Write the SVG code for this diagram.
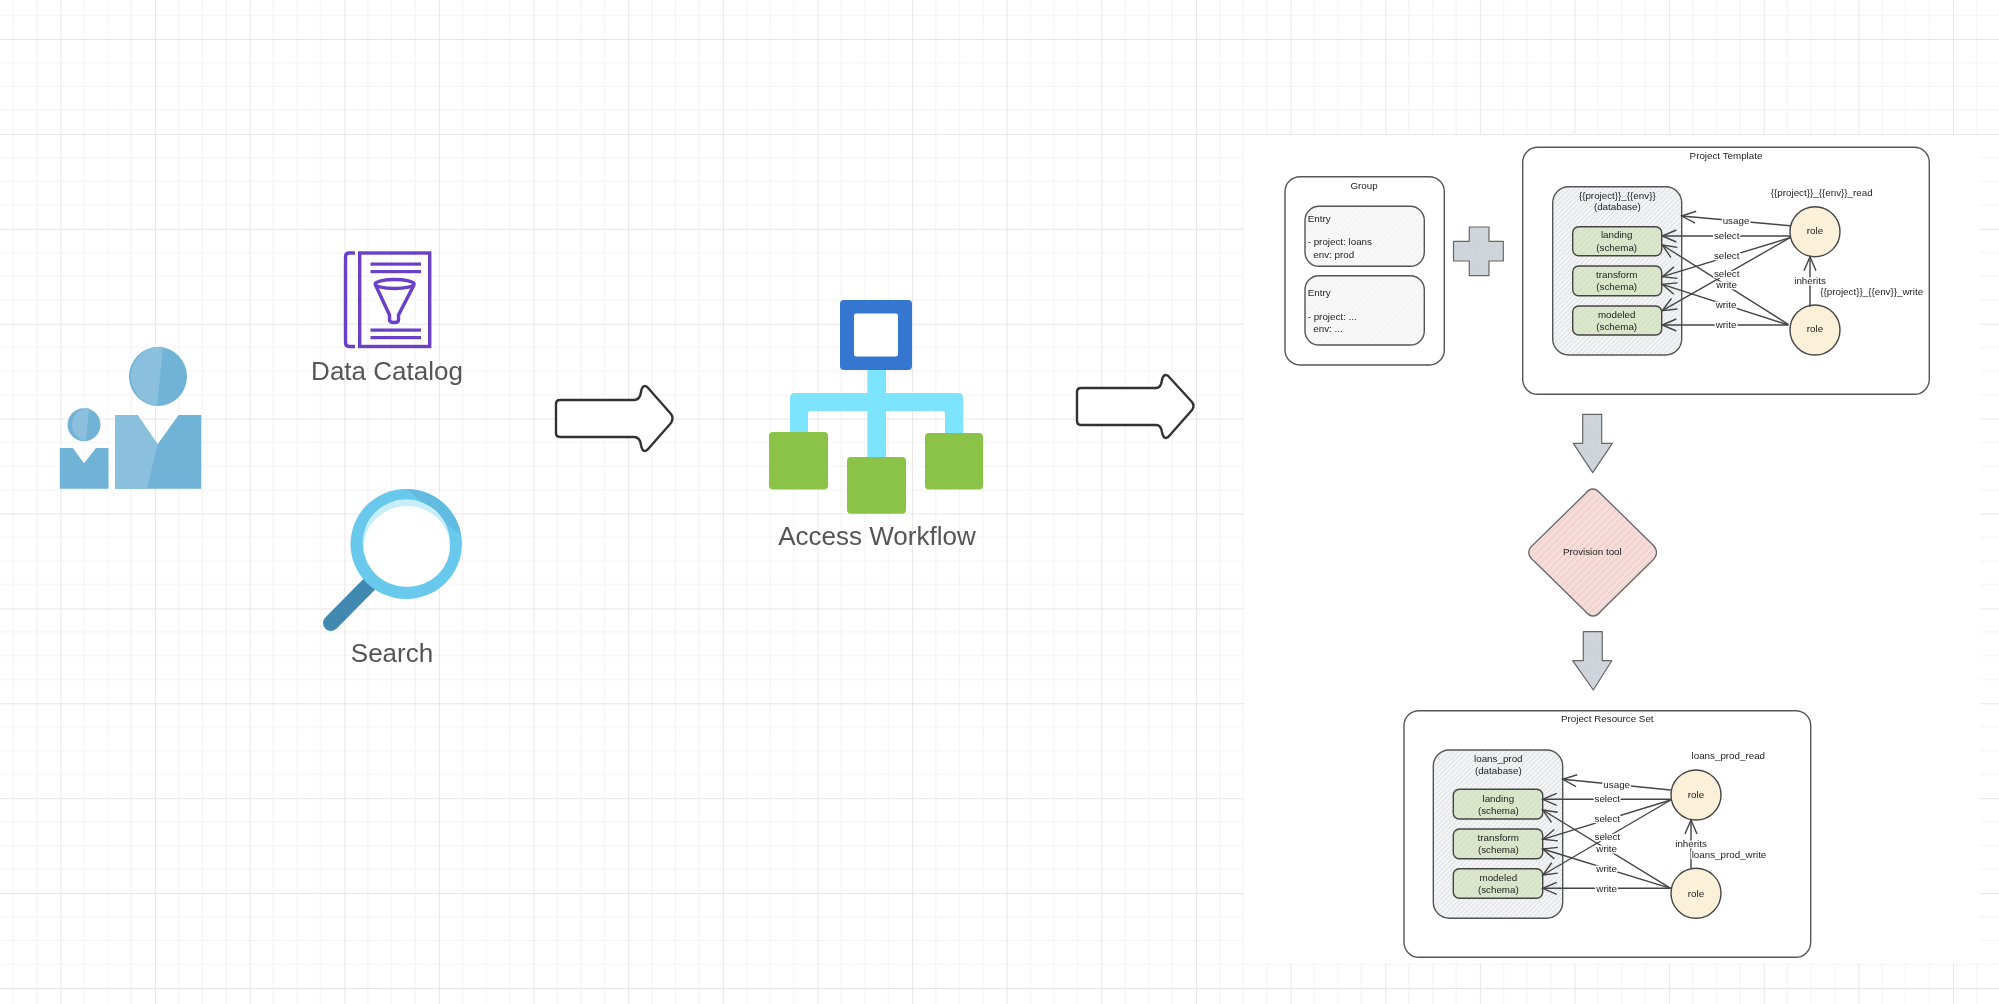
<svg xmlns="http://www.w3.org/2000/svg" width="1999" height="1004" viewBox="0 0 1999 1004">
<style>
text{font-family:"Liberation Sans",Arial,sans-serif}
.big{font-size:26px;fill:#555;text-anchor:middle}
.t{font-size:9.8px;fill:#222;text-anchor:middle}
.s{font-size:9.8px;fill:#222}
.lab{font-size:9.8px;fill:#222;text-anchor:middle;paint-order:stroke;stroke:#fff;stroke-width:3px;stroke-linejoin:round}
.soft{filter:url(#soft)}
.soft2{filter:url(#soft2)}
.box{fill:#fff;stroke:#555;stroke-width:1.4}
.entry{fill:url(#hLight);stroke:#555;stroke-width:1.4}
.db{fill:url(#hGray);stroke:#555;stroke-width:1.4}
.schema{fill:url(#hGreen);stroke:#444;stroke-width:1.4}
.role{fill:url(#hCream);stroke:#444;stroke-width:1.4}
.block{fill:url(#hBlock);stroke:#666;stroke-width:1.2;stroke-linejoin:round}
.bigarrow{fill:#fff;stroke:#333;stroke-width:2.4;stroke-linejoin:round}
.conn{fill:none;stroke:#444;stroke-width:1.4;marker-end:url(#open)}
.pb{fill:#6a3fc8}
.pl{fill:none;stroke:#6a3fc8;stroke-width:3.4}
.lb{fill:#7de4fe}
.gr{fill:#8bc34a}
.p1{fill:#8bbfde}
.p2{fill:#6fb3d7}
</style>
<defs>
<filter id="soft" filterUnits="userSpaceOnUse" x="0" y="0" width="1999" height="1004"><feGaussianBlur stdDeviation="0.45"/></filter>
<filter id="soft2" filterUnits="userSpaceOnUse" x="0" y="0" width="1999" height="1004"><feGaussianBlur stdDeviation="0.6"/></filter>
<pattern id="grid" patternUnits="userSpaceOnUse" x="60.4" y="39" width="94.63" height="94.9">
<path d="M23.66 0V94.9M47.32 0V94.9M70.97 0V94.9M0 23.72H94.63M0 47.45H94.63M0 71.17H94.63" fill="none" stroke="#f4f4f4" stroke-width="1.2"/>
<path d="M0 0V94.9M0 0H94.63" fill="none" stroke="#e6e6e6" stroke-width="1.8"/>
</pattern>
<pattern id="hLight" patternUnits="userSpaceOnUse" width="4" height="4" patternTransform="rotate(-45)"><rect width="4" height="4" fill="#f5f5f5"/><rect width="4" height="0.7" fill="#fff"/></pattern>
<pattern id="hGray" patternUnits="userSpaceOnUse" width="4" height="3.4" patternTransform="rotate(-45)"><rect width="4" height="3.4" fill="#e6e8eb"/><rect width="4" height="1" fill="#fff"/></pattern>
<pattern id="hGreen" patternUnits="userSpaceOnUse" width="4" height="4" patternTransform="rotate(-45)"><rect width="4" height="4" fill="#d7e3c6"/><rect width="4" height="0.7" fill="#e6eeda"/></pattern>
<pattern id="hCream" patternUnits="userSpaceOnUse" width="4" height="4" patternTransform="rotate(-45)"><rect width="4" height="4" fill="#fbefd6"/><rect width="4" height="0.6" fill="#fef8ea"/></pattern>
<pattern id="hPink" patternUnits="userSpaceOnUse" width="5" height="5" patternTransform="rotate(-45)"><rect width="5" height="5" fill="#f5d5d2"/><rect width="5" height="0.8" fill="#fbeeed"/></pattern>
<pattern id="hBlock" patternUnits="userSpaceOnUse" width="6" height="6"><rect width="6" height="6" fill="#ced4da"/><rect x="2" y="3" width="0.8" height="0.8" fill="#dbe6ee"/></pattern>
<marker id="open" markerUnits="userSpaceOnUse" markerWidth="18" markerHeight="16" viewBox="-15 -8 18 16" refX="0" refY="0" orient="auto"><path d="M-14-6L0 0L-14 6" fill="none" stroke="#444" stroke-width="1.4"/></marker>
</defs>
<rect id="background" width="1999" height="1004" fill="#fff"/>
<rect id="grid-lines" width="1999" height="1004" fill="url(#grid)" class="soft"/>
<rect id="paste-area" x="1244" y="135" width="736" height="828" fill="#fff"/>

<g id="people" class="soft">
<ellipse class="p2" cx="158" cy="376.5" rx="29" ry="29.5"/>
<path class="p1" d="M163 347A29 29.500 0 0 0 157 406Z"/>
<path class="p2" d="M115 415H137.500L157.600 444.300L178.600 415H201.300V488.700H115Z"/>
<path class="p1" d="M115 415H137.500L157.600 444.300L147 488.700H115Z"/>
<ellipse class="p2" cx="84" cy="424.700" rx="16.500" ry="16.500"/>
<path class="p1" d="M89 408.300A16.500 16.500 0 0 0 86 441.100Z"/>
<path class="p2" d="M59.800 448H72.800L84 463.300L96 448H108.500V488.700H59.800Z"/>
</g>

<g id="data-catalog" class="soft">
<rect class="pl" x="359.700" y="253" width="70" height="93.500"/>
<path class="pl" d="M355 253H349Q345.500 253 345.500 257V342Q345.500 346.500 349 346.500H355"/>
<rect class="pb" x="370.500" y="262.500" width="50.500" height="3.200"/>
<rect class="pb" x="370.500" y="270" width="50.500" height="3.200"/>
<rect class="pb" x="370.500" y="328.500" width="50.500" height="3.200"/>
<rect class="pb" x="370.500" y="336" width="50.500" height="3.200"/>
<ellipse class="pl" cx="394.600" cy="284" rx="19.500" ry="4.500" stroke-width="2.800"/>
<path class="pl" d="M375.500 285L389.500 315V320Q389.500 322.500 394.500 322.500Q398.500 322.500 398.500 320V315L414 285" stroke-width="2.800"/>
<text class="big" x="387" y="380">Data Catalog</text>
</g>

<g id="search" class="soft">
<path d="M370.500 583L331 623" fill="none" stroke="#4289b2" stroke-width="16" stroke-linecap="round"/>
<ellipse cx="406.200" cy="544" rx="55.700" ry="55" fill="#68c9ec"/>
<path d="M406 489A55.700 55 0 0 1 461 535L440 520L420 500Z" fill="#62bbe0"/>
<ellipse cx="406.300" cy="543" rx="43.700" ry="43.700" fill="#c9eefb"/>
<ellipse cx="407" cy="546.400" rx="43" ry="40.300" fill="#fff"/>
<text class="big" x="392" y="661.700">Search</text>
</g>

<g id="arrow-1" class="soft">
<path class="bigarrow" d="M560 400H634Q640 400 641 392Q642 386 645 386Q647 386 649 389L671 414Q674 418 671 423L649 448Q647 451 645 451Q642 451 641 445Q640 437 634 437H560Q556 437 556 433V404Q556 400 560 400Z"/>
</g>

<g id="access-workflow" class="soft">
<rect x="840" y="300" width="72" height="70" rx="4" fill="#3577d0"/>
<rect x="854" y="313.500" width="44" height="43" rx="2" fill="#fff"/>
<path class="lb" d="M867.300 370H886V393H958Q963 393 963 398V435H945V414Q945 411 942 411H886V459H867.300V411H811Q808 411 808 414V435H790V398Q790 393 795 393H867.300Z"/>
<rect class="gr" x="769" y="432" width="59" height="57.500" rx="4"/>
<rect class="gr" x="847" y="457" width="59" height="56.700" rx="4"/>
<rect class="gr" x="925" y="433" width="58" height="56.500" rx="4"/>
<text class="big" x="877" y="545">Access Workflow</text>
</g>

<g id="arrow-2" class="soft">
<path class="bigarrow" d="M1081 388H1156Q1161 388 1162 380Q1163 375 1166 375Q1168 375 1170 378L1192 402Q1195 406 1192 410L1170 435Q1168 438 1166 438Q1163 438 1162 432Q1161 425 1156 425H1081Q1077 425 1077 421V392Q1077 388 1081 388Z"/>
</g>

<g id="group" class="soft2">
<rect class="box" x="1285" y="176.700" width="159.300" height="188.300" rx="15"/>
<text class="t" x="1364" y="189.300">Group</text>
<rect class="entry" x="1305" y="206.300" width="119.300" height="60" rx="14"/>
<text class="s" x="1307.700" y="222">Entry</text>
<text class="s" x="1307.700" y="245">- project: loans</text>
<text class="s" x="1313.300" y="257.700">env: prod</text>
<rect class="entry" x="1305" y="275.700" width="119.300" height="69.300" rx="14"/>
<text class="s" x="1307.700" y="296">Entry</text>
<text class="s" x="1307.700" y="320">- project: ...</text>
<text class="s" x="1313.300" y="332.300">env: ...</text>
</g>

<g id="plus" class="soft2">
<path class="block" d="M1469.300 227H1489V241.300H1503.300V261H1489V275.700H1469.300V261H1453.500V241.300H1469.300Z"/>
</g>

<g id="project-template" class="soft2">
<rect class="box" x="1522.700" y="147.300" width="406.600" height="247" rx="15"/>
<text class="t" x="1726" y="159">Project Template</text>
<rect class="db" x="1552.700" y="186.700" width="129" height="168.300" rx="16"/>
<text class="t" x="1617.300" y="199">{{project}}_{{env}}</text>
<text class="t" x="1617.300" y="210">(database)</text>
<rect class="schema" x="1572.700" y="226.700" width="89" height="29" rx="6"/>
<text class="t" x="1616.700" y="238.300">landing</text>
<text class="t" x="1616.700" y="250.700">(schema)</text>
<rect class="schema" x="1572.700" y="266" width="89" height="29.700" rx="6"/>
<text class="t" x="1616.700" y="277.700">transform</text>
<text class="t" x="1616.700" y="289.700">(schema)</text>
<rect class="schema" x="1572.700" y="306" width="89" height="29" rx="6"/>
<text class="t" x="1616.700" y="317.700">modeled</text>
<text class="t" x="1616.700" y="330">(schema)</text>
<circle class="role" cx="1815" cy="231.700" r="25"/>
<text class="t" x="1815" y="234">role</text>
<circle class="role" cx="1815" cy="330" r="25"/>
<text class="t" x="1815" y="332.300">role</text>
<text class="t" x="1821.700" y="196">{{project}}_{{env}}_read</text>
<text class="t" x="1871.700" y="295">{{project}}_{{env}}_write</text>
</g>

<g id="down-arrow-1" class="soft2">
<path class="block" d="M1582.700 414.300H1601.700V443.300H1612.300L1592.700 472.700L1573.300 443.300H1582.700Z"/>
</g>

<g id="provision-tool" class="soft2">
<path d="M1585 494Q1592.700 484 1601 494L1652 544Q1661 552.300 1652 561L1601 611Q1593.300 621 1585 611L1534 561Q1523.500 552.300 1534 544Z" fill="url(#hPink)" stroke="#666" stroke-width="1.300"/>
<text class="t" x="1592.300" y="555">Provision tool</text>
</g>

<g id="down-arrow-2" class="soft2">
<path class="block" d="M1583.300 631.700H1602.300V660.700H1611.700L1593.300 690L1572.700 660.700H1583.300Z"/>
</g>

<g id="project-resource-set" class="soft2">
<rect class="box" x="1404" y="710.700" width="406.700" height="246.600" rx="15"/>
<text class="t" x="1607.300" y="722.300">Project Resource Set</text>
<rect class="db" x="1433.300" y="750" width="129.400" height="168.300" rx="16"/>
<text class="t" x="1498.300" y="761.700">loans_prod</text>
<text class="t" x="1498.300" y="774">(database)</text>
<rect class="schema" x="1453.300" y="789.300" width="89.400" height="29.700" rx="6"/>
<text class="t" x="1498.300" y="801.700">landing</text>
<text class="t" x="1498.300" y="814">(schema)</text>
<rect class="schema" x="1453.300" y="829" width="89.400" height="29.700" rx="6"/>
<text class="t" x="1498.300" y="841">transform</text>
<text class="t" x="1498.300" y="853.300">(schema)</text>
<rect class="schema" x="1453.300" y="868.700" width="89.400" height="29.600" rx="6"/>
<text class="t" x="1498.300" y="880.700">modeled</text>
<text class="t" x="1498.300" y="892.700">(schema)</text>
<circle class="role" cx="1696" cy="795" r="25"/>
<text class="t" x="1696" y="797.700">role</text>
<circle class="role" cx="1696" cy="893.300" r="25"/>
<text class="t" x="1696" y="896.700">role</text>
<text class="t" x="1728.300" y="759.300">loans_prod_read</text>
</g>

<g id="connectors" class="soft2">
<path class="conn" d="M1790 225.700L1681.700 216"/>
<path class="conn" d="M1790 236H1662.300"/>
<path class="conn" d="M1790 237.700L1662.300 276.700"/>
<path class="conn" d="M1790 237.700L1662.300 310.700"/>
<path class="conn" d="M1788.300 324.300L1662.300 245"/>
<path class="conn" d="M1788.300 325L1662.300 284.300"/>
<path class="conn" d="M1788.300 325H1662.300"/>
<path class="conn" d="M1810 306.700V256.700"/>
<text class="lab" x="1736" y="224.300">usage</text>
<text class="lab" x="1726.700" y="238.700">select</text>
<text class="lab" x="1726.700" y="259">select</text>
<text class="lab" x="1726.700" y="276.700">select</text>
<text class="lab" x="1726.700" y="288.300">write</text>
<text class="lab" x="1726" y="308.300">write</text>
<text class="lab" x="1726" y="328.300">write</text>
<text class="lab" x="1810" y="284">inherits</text>
<path class="conn" d="M1670.700 790L1562.700 779.300"/>
<path class="conn" d="M1670.700 799.300H1542.700"/>
<path class="conn" d="M1670.700 800L1542.700 839.300"/>
<path class="conn" d="M1670.700 800L1542.700 875"/>
<path class="conn" d="M1670.700 888.300L1542.700 810"/>
<path class="conn" d="M1670.700 888.300L1542.700 849"/>
<path class="conn" d="M1670.700 888.300H1542.700"/>
<path class="conn" d="M1691 868.300V820"/>
<text class="lab" x="1616.700" y="787.700">usage</text>
<text class="lab" x="1607.300" y="801.700">select</text>
<text class="lab" x="1607.300" y="821.700">select</text>
<text class="lab" x="1607.300" y="840">select</text>
<text class="lab" x="1606.700" y="851.700">write</text>
<text class="lab" x="1606.700" y="871.700">write</text>
<text class="lab" x="1606.700" y="891.700">write</text>
<text class="lab" x="1691" y="846.700">inherits</text>
<text class="lab" x="1729" y="858">loans_prod_write</text>
</g>
</svg>
